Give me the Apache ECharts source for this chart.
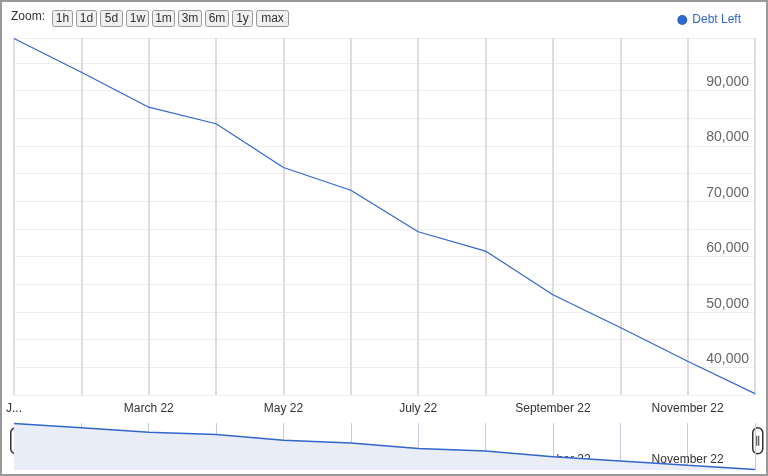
<!DOCTYPE html>
<html><head><meta charset="utf-8">
<script src="https://cdn.jsdelivr.net/npm/echarts@6/dist/echarts.min.js"></script>
<style>html,body{margin:0;padding:0;background:#fff}#c{width:768px;height:476px;box-sizing:border-box;border:2px solid #999}</style>
</head><body><div id="c"></div>
<script>
const categories = ['Jan 22','Feb 22','March 22','Apr 22','May 22','Jun 22','July 22','Aug 22','September 22','Oct 22','November 22','Dec 22'];
const debtLeft = [97900, 91800, 85500, 82500, 74600, 70500, 63000, 59500, 51600, 45700, 39600, 33750];
const zoomButtons = ['1h','1d','5d','1w','1m','3m','6m','1y','max'];
const yTickLabels = [40000, 50000, 60000, 70000, 80000, 90000];
const labelIdx = {0:'J...',2:'March 22',4:'May 22',6:'July 22',8:'September 22',10:'November 22'};

const chart = echarts.init(document.getElementById('c'));
const btnWidths = [20,20,22,22,22,23,23,20,32];
let bx = 50; const btns = [];
zoomButtons.forEach((b,i)=>{
  btns.push({type:'group',left:bx,top:8,children:[
    {type:'rect',shape:{x:0,y:0,width:btnWidths[i],height:16,r:2},style:{fill:'#f0f0f0',stroke:'#999',lineWidth:1}},
    {type:'text',style:{x:btnWidths[i]/2,y:8,text:b,align:'center',verticalAlign:'middle',font:'12px Arial',fill:'#333'}}
  ]});
  bx += btnWidths[i]+4;
});
function handle(x){return {type:'group',left:x,top:425,children:[
  {type:'rect',shape:{x:0,y:0,width:10,height:26,r:5},style:{fill:'#fff',stroke:'#333',lineWidth:1.5}},
  {type:'line',shape:{x1:4,y1:8,x2:4,y2:18},style:{stroke:'#333',lineWidth:1}},
  {type:'line',shape:{x1:6,y1:8,x2:6,y2:18},style:{stroke:'#333',lineWidth:1}}]};}
chart.setOption({
  animation:false,
  textStyle:{fontFamily:'Arial'},
  graphic:[{type:'text',left:9,top:9,style:{text:'Zoom:',font:'12px Arial',fill:'#333'}}].concat(btns,[handle(8),handle(750)]),
  legend:{right:20,top:7,icon:'circle',itemWidth:10,itemHeight:10,itemGap:4,textStyle:{color:'#3366cc',fontSize:12},data:['Debt Left']},
  grid:[{left:12,right:11,top:36,bottom:79,outerBoundsMode:'none',containLabel:false},
        {left:12,right:11,top:421,bottom:4,outerBoundsMode:'none',containLabel:false}],
  xAxis:[
    {type:'category',gridIndex:0,data:categories,boundaryGap:false,
     axisLine:{show:false},axisTick:{show:false},
     splitLine:{show:true,lineStyle:{color:'#ddd',width:2}},
     axisLabel:{interval:0,color:'#333',fontSize:12,margin:8,formatter:(v,i)=>labelIdx[i]||''}},
    {type:'category',gridIndex:1,data:categories,boundaryGap:false,
     axisLine:{show:false},axisTick:{show:false},
     splitLine:{show:true,lineStyle:{color:'#c8ccd8'}},
     axisLabel:{inside:true,interval:0,color:'#333',fontSize:12,margin:4,
       formatter:(v,i)=>(i>0&&labelIdx[i])?labelIdx[i]:''}}
  ],
  yAxis:[
    {type:'value',gridIndex:0,position:'right',min:33500,max:98000,interval:5000,
     axisLine:{show:false},axisTick:{show:false},
     splitLine:{lineStyle:{color:'#eee'}},
     axisLabel:{inside:true,margin:6,color:'#666',fontSize:14,customValues:yTickLabels}},
    {type:'value',gridIndex:1,min:33000,max:98500,show:false}
  ],
  series:[
    {name:'Debt Left',type:'line',xAxisIndex:0,yAxisIndex:0,data:debtLeft,symbol:'none',
     lineStyle:{color:'#3366cc',width:1.2},itemStyle:{color:'#3366cc'}},
    {name:'nav',type:'line',xAxisIndex:1,yAxisIndex:1,data:debtLeft,symbol:'none',
     lineStyle:{color:'#3366cc',width:1.5},areaStyle:{color:'#e8edf8',opacity:1},silent:true}
  ]
});
</script></body></html>
